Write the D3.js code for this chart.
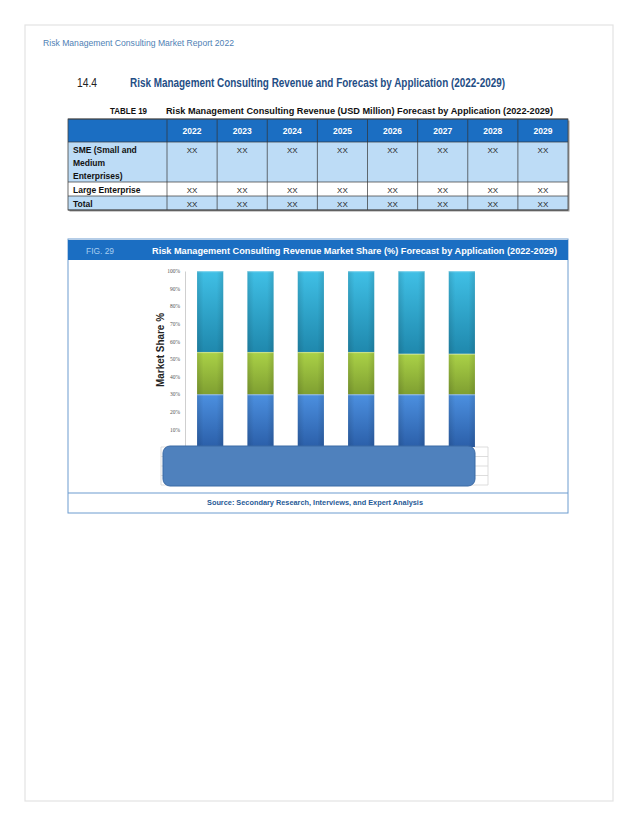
<!DOCTYPE html>
<html>
<head>
<meta charset="utf-8">
<script src="https://cdn.jsdelivr.net/npm/d3@7"></script>
<style>
  body { margin: 0; background: #fff; }
  text { font-family: "Liberation Sans", Arial, sans-serif; }
</style>
</head>
<body>
<div id="page"></div>
<script>
// ---- table data ----
var years = ["2022", "2023", "2024", "2025", "2026", "2027", "2028", "2029"];
var rowNames = [["SME (Small and", "Medium", "Enterprises)"], ["Large Enterprise"], ["Total"]];
var rowValues = [
  ["XX", "XX", "XX", "XX", "XX", "XX", "XX", "XX"],
  ["XX", "XX", "XX", "XX", "XX", "XX", "XX", "XX"],
  ["XX", "XX", "XX", "XX", "XX", "XX", "XX", "XX"]
];

// ---- chart data (market share %, stacked bottom -> top) ----
var barCats = ["2022", "2023", "2024", "2025", "2026", "2027"];
var shareBottom = [30, 30, 30, 30, 30, 30];
var shareMiddle = [24, 24, 24, 24, 23, 23];
var shareTop = [46, 46, 46, 46, 47, 47];
var yTicks = [10, 20, 30, 40, 50, 60, 70, 80, 90, 100];

var W = 638, H = 826;
var svg = d3.select("#page").append("svg")
  .attr("width", W).attr("height", H);

// page frame
svg.append("rect").attr("x", 25).attr("y", 25).attr("width", 588).attr("height", 776)
  .attr("fill", "none").attr("stroke", "#e3e3e3").attr("stroke-width", 1.2);

// running header
svg.append("text").attr("x", 43).attr("y", 46).text("Risk Management Consulting Market Report 2022")
  .attr("fill", "#4f7fb5").style("font-size", "9px")
  .attr("textLength", 191).attr("lengthAdjust", "spacingAndGlyphs");

// section title
svg.append("text").attr("x", 77).attr("y", 87).text("14.4")
  .attr("fill", "#222").style("font-size", "12px")
  .attr("textLength", 20).attr("lengthAdjust", "spacingAndGlyphs");
svg.append("text").attr("x", 130).attr("y", 87)
  .text("Risk Management Consulting Revenue and Forecast by Application (2022-2029)")
  .attr("fill", "#1f4e85").style("font-size", "12px").style("font-weight", "bold")
  .attr("textLength", 375).attr("lengthAdjust", "spacingAndGlyphs");

// table caption
svg.append("text").attr("x", 110).attr("y", 114).text("TABLE 19")
  .attr("fill", "#111").style("font-size", "9px").style("font-weight", "bold")
  .attr("textLength", 37).attr("lengthAdjust", "spacingAndGlyphs");
svg.append("text").attr("x", 166).attr("y", 114)
  .text("Risk Management Consulting Revenue (USD Million) Forecast by Application (2022-2029)")
  .attr("fill", "#111").style("font-size", "9px").style("font-weight", "bold")
  .attr("textLength", 387).attr("lengthAdjust", "spacingAndGlyphs");

// ---- table ----
var tLeft = 68, tFirst = 167, tRight = 568;
var rowTops = [119, 142, 182, 196, 210];
var colX = d3.scaleBand().domain(years).range([tFirst, tRight]);
var tbl = svg.append("g");

tbl.append("rect").attr("x", tLeft + 1.5).attr("y", rowTops[0] + 1.5)
  .attr("width", tRight - tLeft).attr("height", rowTops[4] - rowTops[0])
  .attr("fill", "#9a9a9a");
tbl.append("rect").attr("x", tLeft).attr("y", rowTops[0])
  .attr("width", tRight - tLeft).attr("height", rowTops[1] - rowTops[0])
  .attr("fill", "#1b6ec2");
var rowFill = ["#bddcf6", "#ffffff", "#bddcf6"];
rowNames.forEach(function(r, i) {
  tbl.append("rect").attr("x", tLeft).attr("y", rowTops[i + 1])
    .attr("width", tRight - tLeft).attr("height", rowTops[i + 2] - rowTops[i + 1])
    .attr("fill", rowFill[i]);
});
// grid lines
[tFirst].concat(years.slice(1).map(function(y) { return colX(y); })).forEach(function(x) {
  tbl.append("line").attr("x1", x).attr("x2", x).attr("y1", rowTops[0]).attr("y2", rowTops[4])
    .attr("stroke", "#333").attr("stroke-width", 0.7);
});
rowTops.forEach(function(y) {
  tbl.append("line").attr("x1", tLeft).attr("x2", tRight).attr("y1", y).attr("y2", y)
    .attr("stroke", "#333").attr("stroke-width", 0.7);
});
tbl.append("rect").attr("x", tLeft).attr("y", rowTops[0])
  .attr("width", tRight - tLeft).attr("height", rowTops[4] - rowTops[0])
  .attr("fill", "none").attr("stroke", "#444").attr("stroke-width", 0.8);

// header labels
tbl.selectAll(".yr").data(years).enter().append("text")
  .attr("x", function(d) { return colX(d) + colX.bandwidth() / 2; })
  .attr("y", 133.5).attr("text-anchor", "middle")
  .attr("fill", "#fff").style("font-size", "8.5px").style("font-weight", "bold")
  .text(function(d) { return d; });

// row labels and values
var rowTextY = [[153, 166, 179], [193], [207]];
rowNames.forEach(function(lines, i) {
  lines.forEach(function(l, j) {
    tbl.append("text").attr("x", 73).attr("y", rowTextY[i][j]).text(l)
      .attr("fill", "#111").style("font-size", "8.5px").style("font-weight", "bold");
  });
  tbl.selectAll(".v" + i).data(rowValues[i]).enter().append("text")
    .attr("x", function(d, k) { return colX(years[k]) + colX.bandwidth() / 2; })
    .attr("y", rowTextY[i][0]).attr("text-anchor", "middle")
    .attr("fill", "#222").style("font-size", "8px")
    .text(function(d) { return d; });
});

// ---- figure box ----
var fig = svg.append("g");
fig.append("rect").attr("x", 68).attr("y", 239).attr("width", 500).attr("height", 274)
  .attr("fill", "#fff").attr("stroke", "#6c9ccf").attr("stroke-width", 1);
fig.append("rect").attr("x", 68).attr("y", 240).attr("width", 500).attr("height", 20)
  .attr("fill", "#1b6ec2");
fig.append("text").attr("x", 86).attr("y", 254).text("FIG. 29")
  .attr("fill", "#a8cdf0").style("font-size", "9px")
  .attr("textLength", 28).attr("lengthAdjust", "spacingAndGlyphs");
fig.append("text").attr("x", 152).attr("y", 254)
  .text("Risk Management Consulting Revenue Market Share (%) Forecast by Application (2022-2029)")
  .attr("fill", "#fff").style("font-size", "9px").style("font-weight", "bold")
  .attr("textLength", 405).attr("lengthAdjust", "spacingAndGlyphs");
fig.append("line").attr("x1", 68).attr("x2", 568).attr("y1", 493).attr("y2", 493)
  .attr("stroke", "#6c9ccf").attr("stroke-width", 1.2);
fig.append("text").attr("x", 315).attr("y", 504.5).attr("text-anchor", "middle")
  .text("Source: Secondary Research, Interviews, and Expert Analysis")
  .attr("fill", "#1f5a96").style("font-size", "7.5px").style("font-weight", "bold")
  .attr("textLength", 216).attr("lengthAdjust", "spacingAndGlyphs");

// ---- stacked bar chart ----
var data = barCats.map(function(c, i) {
  return { cat: c, bottom: shareBottom[i], middle: shareMiddle[i], top: shareTop[i] };
});
var keys = ["bottom", "middle", "top"];
var stacked = d3.stack().keys(keys)(data);

var x = d3.scaleBand().domain(barCats).range([185, 487]).paddingInner(0.48).paddingOuter(0.24);
var y = d3.scaleLinear().domain([0, 100]).range([447, 271]);

var defs = svg.append("defs");
var grads = {
  bottom: ["#4c90e0", "#2b5fa9"],
  middle: ["#abd247", "#7f9f31"],
  top: ["#40c0e6", "#1f88ad"]
};
keys.forEach(function(k) {
  var g = defs.append("linearGradient").attr("id", "g-" + k)
    .attr("x1", 0).attr("x2", 0).attr("y1", 0).attr("y2", 1);
  g.append("stop").attr("offset", "0%").attr("stop-color", grads[k][0]);
  g.append("stop").attr("offset", "100%").attr("stop-color", grads[k][1]);
  var h = defs.append("linearGradient").attr("id", "h-" + k);
  h.append("stop").attr("offset", "0%").attr("stop-color", "#000").attr("stop-opacity", 0.12);
  h.append("stop").attr("offset", "25%").attr("stop-color", "#000").attr("stop-opacity", 0);
  h.append("stop").attr("offset", "75%").attr("stop-color", "#000").attr("stop-opacity", 0);
  h.append("stop").attr("offset", "100%").attr("stop-color", "#000").attr("stop-opacity", 0.12);
});

var chart = svg.append("g");

// faint data table lines under the category box
var dtRows = [447, 456.5, 466, 475.5, 485];
dtRows.forEach(function(yy) {
  chart.append("line").attr("x1", 161).attr("x2", 488).attr("y1", yy).attr("y2", yy)
    .attr("stroke", "#d4d4d4").attr("stroke-width", 0.8);
});
[161, 488].forEach(function(xx) {
  chart.append("line").attr("x1", xx).attr("x2", xx).attr("y1", 447).attr("y2", 485)
    .attr("stroke", "#d4d4d4").attr("stroke-width", 0.8);
});

// y axis
var yAxis = chart.append("g").attr("transform", "translate(185,0)")
  .call(d3.axisLeft(y).tickValues(yTicks).tickSize(0).tickPadding(5)
    .tickFormat(function(d) { return d + "%"; }));
yAxis.select(".domain").attr("stroke", "#cfcfcf").attr("stroke-width", 1);
yAxis.selectAll("text").attr("fill", "#555")
  .style("font-family", "'Liberation Serif', serif").style("font-size", "5.5px");

chart.append("text").attr("transform", "translate(164,350) rotate(-90)")
  .attr("text-anchor", "middle").text("Market Share %")
  .attr("fill", "#222").style("font-size", "10px").style("font-weight", "bold")
  .attr("textLength", 74).attr("lengthAdjust", "spacingAndGlyphs");

var layers = chart.selectAll(".layer").data(stacked).enter().append("g")
  .attr("class", function(d) { return "layer " + d.key; });
layers.selectAll("rect.seg").data(function(d) { return d.map(function(p) { p.key = d.key; return p; }); })
  .enter().append("rect").attr("class", "seg")
  .attr("x", function(d) { return x(d.data.cat); })
  .attr("y", function(d) { return y(d[1]); })
  .attr("width", x.bandwidth())
  .attr("height", function(d) { return y(d[0]) - y(d[1]); })
  .attr("fill", function(d) { return "url(#g-" + d.key + ")"; });
layers.selectAll("rect.shade").data(function(d) { return d; })
  .enter().append("rect").attr("class", "shade")
  .attr("x", function(d) { return x(d.data.cat); })
  .attr("y", function(d) { return y(d[1]); })
  .attr("width", x.bandwidth())
  .attr("height", function(d) { return y(d[0]) - y(d[1]); })
  .attr("fill", function(d) { return "url(#h-" + d.key + ")"; });
layers.selectAll("rect.hi").data(function(d) { return d; })
  .enter().append("rect").attr("class", "hi")
  .attr("x", function(d) { return x(d.data.cat); })
  .attr("y", function(d) { return y(d[1]); })
  .attr("width", x.bandwidth()).attr("height", 1.2)
  .attr("fill", "#fff").attr("opacity", 0.35);

// rounded box over the category axis
chart.append("rect").attr("x", 163).attr("y", 446).attr("width", 312).attr("height", 40)
  .attr("rx", 7).attr("ry", 7)
  .attr("fill", "#4f81bd").attr("stroke", "#3b6aa5").attr("stroke-width", 1);
</script>
</body>
</html>
